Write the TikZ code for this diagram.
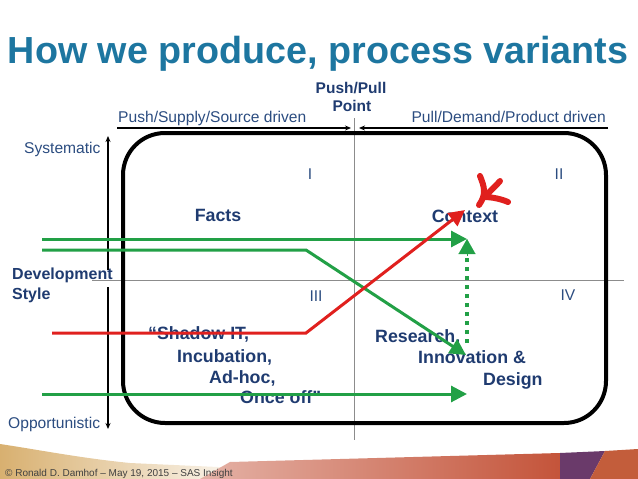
\documentclass[tikz,border=0pt]{standalone}
\usepackage{fontspec}
\setmainfont{Liberation Sans}
\usetikzlibrary{arrows.meta}
\definecolor{titleblue}{HTML}{1D76A0}
\definecolor{navy}{HTML}{1F3B70}
\definecolor{lblue}{HTML}{2B4C80}
\definecolor{ggreen}{HTML}{22A046}
\definecolor{rred}{HTML}{E0201E}
\definecolor{tan}{HTML}{D8B070}
\definecolor{band}{HTML}{C4543A}
\definecolor{purp}{HTML}{6A3A6A}
\tikzset{
  lbl/.style={anchor=base, inner sep=0pt, text=lblue, font=\fontsize{15.6}{17}\selectfont},
  blbl/.style={anchor=base, inner sep=0pt, text=navy, font=\fontsize{17.8}{19}\selectfont\bfseries},
  axisarrow/.style={-{Stealth[length=6,width=5]}, line width=1.3, black},
  grayline/.style={draw=gray!90, line width=0.8},
  garrow/.style={ggreen, line width=3, -{Triangle[length=16,width=16]}},
  rarrow/.style={rred, line width=3, -{Triangle[length=16,width=16]}},
}
\begin{document}
\begin{tikzpicture}[x=1pt,y=-1pt]
\useasboundingbox (0,0) rectangle (638,479);
% bottom band
\shade[left color=tan, right color=white!90!tan] (0,444) .. controls (40,450) and (80,458) .. (130,463) -- (240,468) -- (240,479) -- (0,479) -- cycle;
\shade[left color=white!55!band, right color=band] (200,479) -- (230,462) -- (560,453) -- (560,479) -- cycle;
\fill[purp] (560,453) -- (605,451) -- (590,479) -- (560,479) -- cycle;
\fill[band!80!brown] (605,451) -- (638,449) -- (638,479) -- (590,479) -- cycle;
\node[anchor=base west, inner sep=0pt, text=black!75, font=\fontsize{10}{12}\selectfont] (foot) at (5,476) {© Ronald D. Damhof – May 19, 2015 – SAS Insight};
% title
\node[anchor=base, inner sep=0pt, text=titleblue, font=\fontsize{37.7}{40}\selectfont\bfseries] (title) at (318,63) {How we produce, process variants};
% push/pull
\node[anchor=base, inner sep=0pt, text=navy, font=\fontsize{15.5}{17}\selectfont\bfseries] (pp) at (351,93) {Push/Pull};
\node[anchor=base, inner sep=0pt, text=navy, font=\fontsize{15.5}{17}\selectfont\bfseries] (pt) at (352,111) {Point};
\node[lbl, anchor=base west] (push) at (118,122) {Push/Supply/Source driven};
\node[lbl, anchor=base east] (pull) at (606,122) {Pull/Demand/Product driven};
\coordinate (pushS) at (117,128);
\coordinate (pushE) at (351,128);
\coordinate (pullS) at (608,128);
\coordinate (pullE) at (359,128);
\draw[axisarrow] (pushS) -- (pushE);
\draw[axisarrow] (pullS) -- (pullE);
% axes
\coordinate (vT) at (354,118);
\coordinate (vB) at (354,440);
\coordinate (hL) at (92,280);
\coordinate (hR) at (624,280);
\draw[grayline] (vT) -- (vB);
\draw[grayline] (hL) -- (hR);
% frame
\draw[line width=4, rounded corners=42] (123,133) rectangle (606,423);
% left axis
\node[lbl, anchor=base west] (sys) at (24,153) {Systematic};
\node[lbl, anchor=base west] (opp) at (8,428) {Opportunistic};
\node[anchor=base west, inner sep=0pt, text=navy, font=\fontsize{16}{18}\selectfont\bfseries] (dev) at (12,279) {Development};
\node[anchor=base west, inner sep=0pt, text=navy, font=\fontsize{16}{18}\selectfont\bfseries] (sty) at (12,299) {Style};
\coordinate (upS) at (108,270);
\coordinate (upE) at (108,136);
\coordinate (dnS) at (108,287);
\coordinate (dnE) at (108,429);
\draw[axisarrow] (upS) -- (upE);
\draw[axisarrow] (dnS) -- (dnE);
% quadrant numerals
\node[lbl] (q1) at (310,179) {I};
\node[lbl] (q2) at (559,179) {II};
\node[lbl] (q3) at (316,301) {III};
\node[lbl] (q4) at (568,300) {IV};
% quadrant texts
\node[blbl] (facts) at (218,221) {Facts};
\node[blbl] (ctx) at (465,222) {Context};
\node[blbl, anchor=base west] (sh) at (148,339) {“Shadow IT,};
\node[blbl, anchor=base west] (inc) at (177,362) {Incubation,};
\node[blbl, anchor=base west] (adh) at (209,383) {Ad-hoc,};
\node[blbl, anchor=base west] (once) at (240,403) {Once off”};
\node[blbl, anchor=base west] (res) at (375,342) {Research,};
\node[blbl, anchor=base west] (inn) at (418,363) {Innovation \&};
\node[blbl, anchor=base west] (des) at (483,385) {Design};
% coloured arrows
\coordinate (g1S) at (42,239);
\coordinate (g1E) at (467,239);
\coordinate (g2S) at (42,250);
\coordinate (g2B) at (306,250);
\coordinate (g2E) at (466,355);
\coordinate (g3S) at (42,394);
\coordinate (g3E) at (467,394);
\coordinate (rS) at (52,333);
\coordinate (rB) at (306,333);
\coordinate (rE) at (465,210);
\coordinate (dS) at (467,343);
\coordinate (dE) at (467,239);
\draw[garrow] (g1S) -- (g1E);
\draw[garrow] (g2S) -- (g2B) -- (g2E);
\draw[garrow] (g3S) -- (g3E);
\draw[rarrow] (rS) -- (rB) -- (rE);
\draw[ggreen, line width=4.5, dash pattern=on 4.5pt off 4.5pt] (dS) -- (467,255);
\draw[ggreen, line width=0.1, -{Triangle[length=15,width=17]}] (467,256) -- (dE);
% red cross
\draw[rred, line width=6, line cap=round, line join=round] (480,176) .. controls (484,186) and (487,194) .. (479,205);
\draw[rred, line width=6, line cap=round, line join=round] (500,181) .. controls (494,188) and (488,193) .. (484,197) .. controls (492,197) and (501,199) .. (508,202);
\end{tikzpicture}
\end{document}
